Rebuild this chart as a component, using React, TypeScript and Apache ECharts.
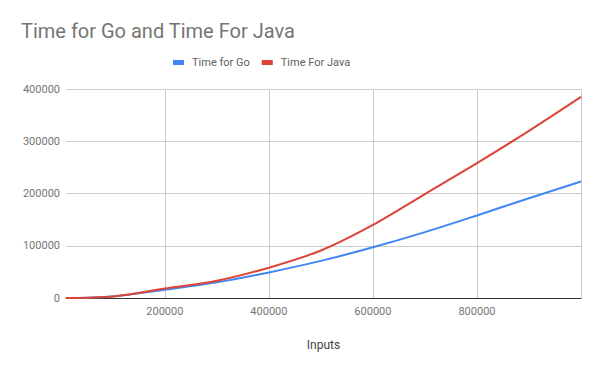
import React, { useEffect, useRef } from "react";
import * as echarts from "echarts";

const inputs = [10000, 100000, 200000, 300000, 400000, 500000, 600000, 700000, 800000, 900000, 1000000];
const timeGo = [0, 3000, 16000, 30000, 49000, 71000, 97000, 126000, 158000, 191000, 223000];
const timeJava = [0, 3000, 18000, 33000, 58000, 91000, 140000, 199000, 258000, 320000, 385000];
const gridXValues = [200000, 400000, 600000, 800000, 1000000];

const FONT = "Roboto";

export default function App() {
  const ref = useRef<HTMLDivElement>(null);
  useEffect(() => {
    if (!ref.current) return;
    const chart = echarts.init(ref.current, undefined, { renderer: "svg" });
    chart.setOption({
      animation: false,
      backgroundColor: "#ffffff",
      textStyle: { fontFamily: FONT },
      title: {
        text: "Time for Go and Time For Java",
        left: 16,
        top: 16,
        textStyle: { fontFamily: FONT, fontSize: 20, fontWeight: "normal", color: "#757575" },
      },
      legend: {
        top: 52,
        left: 168,
        icon: "rect",
        itemWidth: 11,
        itemHeight: 5,
        itemGap: 12,
        textStyle: { fontFamily: FONT, fontSize: 11, color: "#616161", padding: [0, 0, 0, 3] },
        data: ["Time for Go", "Time For Java"],
      },
      grid: { left: 66, right: 19, top: 89, bottom: 73, containLabel: false },
      xAxis: {
        type: "value",
        min: 10000,
        max: 1000000,
        splitNumber: 5,
        name: "Inputs",
        nameLocation: "middle",
        nameGap: 41,
        nameTextStyle: { fontFamily: FONT, fontSize: 12, color: "#444444" },
        axisLine: { show: true, onZero: false, lineStyle: { color: "#333333", width: 1 } },
        axisTick: { show: false },
        axisLabel: {
          showMinLabel: false,
          showMaxLabel: false,
          margin: 8,
          fontFamily: FONT,
          fontSize: 11,
          color: "#757575",
          formatter: (v: number) => String(v),
        },
        splitLine: { show: false },
      },
      yAxis: {
        type: "value",
        min: 0,
        max: 400000,
        interval: 100000,
        axisLine: { show: false },
        axisTick: { show: false },
        axisLabel: {
          margin: 6,
          fontFamily: FONT,
          fontSize: 11,
          color: "#757575",
          formatter: (v: number) => String(v),
        },
        splitLine: { lineStyle: { color: "#cccccc", width: 1 } },
      },
      series: [
        {
          name: "Time for Go",
          type: "line",
          smooth: 0.3,
          showSymbol: false,
          symbol: "none",
          color: "#4285F4",
          lineStyle: { width: 2, color: "#4285F4" },
          data: inputs.map((x, i) => [x, timeGo[i]]),
          z: 3,
          markLine: {
            silent: true,
            symbol: "none",
            label: { show: false },
            lineStyle: { color: "#cccccc", width: 1, type: "solid" },
            data: gridXValues.map((v) => ({ xAxis: v })),
            z: 1,
          },
        },
        {
          name: "Time For Java",
          type: "line",
          smooth: 0.3,
          showSymbol: false,
          symbol: "none",
          color: "#DB4437",
          lineStyle: { width: 2, color: "#DB4437" },
          data: inputs.map((x, i) => [x, timeJava[i]]),
          z: 4,
        },
      ],
    });
    return () => chart.dispose();
  }, []);
  return <div ref={ref} style={{ width: 600, height: 371, position: "absolute", left: 0, top: 0 }} />;
}
